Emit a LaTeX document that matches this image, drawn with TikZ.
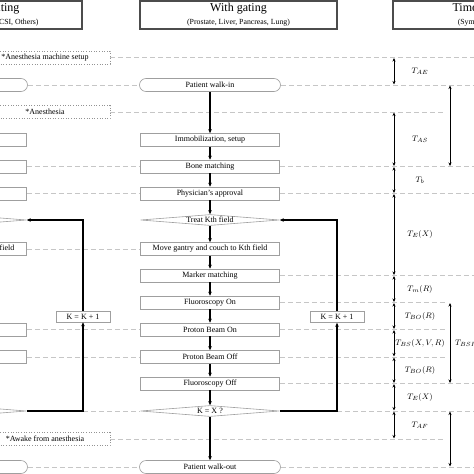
\documentclass[tikz,border=0pt]{standalone}
\usepackage{fontspec}
\setmainfont{Liberation Serif}
\usetikzlibrary{arrows.meta, positioning, shapes.geometric}

\begin{document}
\begin{tikzpicture}[
        x=1pt, y=-1pt,
        >=Stealth,
        box/.style={rectangle, draw=gray!75, line width=0.6pt, fill=white, minimum width=139pt, minimum height=13pt, inner sep=1pt, font=\fontsize{8}{9}\selectfont},
        term/.style={box, rounded corners=6.5pt, minimum width=141pt},
        dia/.style={diamond, draw=gray!75, line width=0.6pt, fill=white, aspect=13, inner sep=0pt, minimum width=139pt, minimum height=11pt, font=\fontsize{8}{9}\selectfont},
        opt/.style={box, dotted, draw=gray!85, minimum width=130pt},
        kbox/.style={box, minimum width=54pt, minimum height=11pt},
        head/.style={rectangle, draw=gray!60!black, line width=1.2pt, fill=white, minimum width=197pt, minimum height=28pt, align=center, inner sep=1pt},
        flow/.style={->, line width=1.1pt, -{Stealth[length=4pt, width=3.5pt]}},
        guide/.style={gray!45, line width=0.8pt, dash pattern=on 5pt off 3pt},
        span/.style={line width=1pt, {Stealth[length=3.5pt, width=3pt]}-{Stealth[length=3.5pt, width=3pt]}, shorten <=0.5pt, shorten >=0.5pt},
        lab/.style={font=\fontsize{8}{9}\selectfont, inner sep=0pt}
    ]
        \useasboundingbox (0,0) rectangle (474,474);
        \clip (0,0) rectangle (474,474);

        % headers
        \node[head] (hNo) at (-16.5,15) {{\fontsize{12}{13}\selectfont Without gating}\\[1pt]{\fontsize{7.8}{8}\selectfont (Brain, Head \& Neck, CSI, Others)}};
        \node[head] (hGate) at (238.5,15) {{\fontsize{12}{13}\selectfont With gating}\\[1pt]{\fontsize{7.8}{8}\selectfont (Prostate, Liver, Pancreas, Lung)}};
        \node[head, minimum width=162pt] (hTime) at (474,15) {{\fontsize{12}{13}\selectfont Timeline}\\[1pt]{\fontsize{7.8}{8}\selectfont (Symbols)}};

        % right ends of the guide lines
        \coordinate (rEnd) at (474,0);
        \coordinate (rCut) at (446,0);

        % without gating
        \node[opt]  (optSetup) at (45,57.5) {*Anesthesia machine setup};
        \node[term] (nIn)    at (-43,85)    {Patient walk-in};
        \node[opt]  (optAnes) at (45,112)   {*Anesthesia};
        \node[box]  (nImmo)  at (-43,140)   {Immobilization, setup};
        \node[box]  (nBone)  at (-43,166.5) {Bone matching};
        \node[box]  (nAppr)  at (-43,193.5) {Physician's approval};
        \node[dia]  (nTreat) at (-43,220)   {Treat Kth field};
        \node[box]  (nMove)  at (-43,249)   {Move gantry and couch to Kth field};
        \node[box]  (nBOn)   at (-43,329.5) {Proton Beam On};
        \node[box]  (nBOff)  at (-43,357)   {Proton Beam Off};
        \node[dia]  (nCheck) at (-43,411)   {K = X ?};
        \node[opt]  (optAwake) at (45,439)  {*Awake from anesthesia};
        \node[term] (nOut)   at (-43,467)   {Patient walk-out};
        \node[kbox] (nLoop)  at (83,316.5)  {K = K + 1};

        % with gating
        \node[term] (gIn)    at (210,85)    {Patient walk-in};
        \node[box]  (gImmo)  at (210,140)   {Immobilization, setup};
        \node[box]  (gBone)  at (210,166.5) {Bone matching};
        \node[box]  (gAppr)  at (210,193.5) {Physician's approval};
        \node[dia]  (gTreat) at (210,220)   {Treat Kth field};
        \node[box]  (gMove)  at (210,249)   {Move gantry and couch to Kth field};
        \node[box]  (gMark)  at (210,275.5) {Marker matching};
        \node[box]  (gFlOn)  at (210,302.5) {Fluoroscopy On};
        \node[box]  (gBOn)   at (210,329.5) {Proton Beam On};
        \node[box]  (gBOff)  at (210,357)   {Proton Beam Off};
        \node[box]  (gFlOff) at (210,383.5) {Fluoroscopy Off};
        \node[dia]  (gCheck) at (210,411)   {K = X ?};
        \node[term] (gOut)   at (210,467)   {Patient walk-out};
        \node[kbox] (gLoop)  at (337,317)   {K = K + 1};

        % guide lines
        \draw[guide] (optSetup.east) -- (optSetup.east -| rEnd);
        \draw[guide] (nIn.east) -- (gIn.west);
        \draw[guide] (gIn.east) -- (gIn.east -| rEnd);
        \draw[guide] (optAnes.east) -- (optAnes.east -| rCut);
        \draw[guide] (nBone.east) -- (gBone.west);
        \draw[guide] (gBone.east) -- (gBone.east -| rEnd);
        \draw[guide] (nAppr.east) -- (gAppr.west);
        \draw[guide] (gAppr.east) -- (gAppr.east -| rEnd);
        \draw[guide] (nMove.east) -- (gMove.west);
        \draw[guide] (gMark.east) -- (gMark.east -| rEnd);
        \draw[guide] (gFlOn.east) -- (gFlOn.east -| rCut);
        \draw[guide] (nBOn.east) -- (gBOn.west);
        \draw[guide] (gBOn.east) -- (gBOn.east -| rCut);
        \draw[guide] (nBOff.east) -- (gBOff.west);
        \draw[guide] (gBOff.east) -- (gBOff.east -| rCut);
        \draw[guide] (gFlOff.east) -- (gFlOff.east -| rEnd);
        \draw[guide] (nCheck.east -| nLoop) -- (gCheck.west);
        \draw[guide] (gCheck.east -| gLoop) -- (gCheck.east -| rEnd);
        \draw[guide] (optAwake.east) -- (optAwake.east -| rCut);
        \draw[guide] (nOut.east) -- (gOut.west);
        \draw[guide] (gOut.east) -- (gOut.east -| rEnd);

        % flow, without gating
        \draw[flow] (nIn) -- (nImmo);
        \draw[flow] (nImmo) -- (nBone);
        \draw[flow] (nBone) -- (nAppr);
        \draw[flow] (nAppr) -- (nTreat);
        \draw[flow] (nTreat) -- (nMove);
        \draw[flow] (nMove) -- (nBOn);
        \draw[flow] (nBOn) -- (nBOff);
        \draw[flow] (nBOff) -- (nCheck);
        \draw[flow] (nCheck) -- (nOut);
        \draw[flow] (nCheck.east) -| (nLoop);
        \draw[flow] (nLoop) |- (nTreat.east);

        % flow, with gating
        \draw[flow] (gIn) -- (gImmo);
        \draw[flow] (gImmo) -- (gBone);
        \draw[flow] (gBone) -- (gAppr);
        \draw[flow] (gAppr) -- (gTreat);
        \draw[flow] (gTreat) -- (gMove);
        \draw[flow] (gMove) -- (gMark);
        \draw[flow] (gMark) -- (gFlOn);
        \draw[flow] (gFlOn) -- (gBOn);
        \draw[flow] (gBOn) -- (gBOff);
        \draw[flow] (gBOff) -- (gFlOff);
        \draw[flow] (gFlOff) -- (gCheck);
        \draw[flow] (gCheck) -- (gOut);
        \draw[flow] (gCheck.east) -| (gLoop);
        \draw[flow] (gLoop) |- (gTreat.east);

        % time levels
        \coordinate (l1)  at (394,57.5);
        \coordinate (l2)  at (394,85);
        \coordinate (l3)  at (394,112);
        \coordinate (l4)  at (394,166.5);
        \coordinate (l5)  at (394,193.5);
        \coordinate (l6)  at (394,275.5);
        \coordinate (l7)  at (394,302.5);
        \coordinate (l8)  at (394,329.5);
        \coordinate (l9)  at (394,357);
        \coordinate (l10) at (394,383.5);
        \coordinate (l11) at (394,411);
        \coordinate (l12) at (394,439);
        \coordinate (l13) at (394,467);
        \coordinate (c2)  at (450,0);

        \draw[span] (l1) -- (l2);
        \draw[span] (l3) -- (l4);
        \draw[span] (l4) -- (l5);
        \draw[span] (l5) -- (l6);
        \draw[span] (l6) -- (l7);
        \draw[span] (l7) -- (l8);
        \draw[span] (l8) -- (l9);
        \draw[span] (l9) -- (l10);
        \draw[span] (l10) -- (l11);
        \draw[span] (l11) -- (l12);
        \draw[span] (l2 -| c2) -- (l4 -| c2);
        \draw[span] (l7 -| c2) -- (l10 -| c2);
        \draw[span] (l11 -| c2) -- (l13 -| c2);

        \node[lab] (tAE)  at (420,71)    {$T_{AE}$};
        \node[lab] (tAS)  at (420,139)   {$T_{AS}$};
        \node[lab] (tB)   at (420,180)   {$T_b$};
        \node[lab] (tE1)  at (420,234.5) {$T_E(X)$};
        \node[lab] (tM)   at (420,289)   {$T_m(R)$};
        \node[lab] (tBO1) at (420,316)   {$T_{BO}(R)$};
        \node[lab] (tBS)  at (420,343)   {$T_{BS}(X,V,R)$};
        \node[lab] (tBO2) at (420,370)   {$T_{BO}(R)$};
        \node[lab] (tE2)  at (420,397)   {$T_E(X)$};
        \node[lab] (tAF)  at (420,425)   {$T_{AF}$};
        \node[lab, anchor=west] (tBSR) at (455,343) {$T_{BSR}(X,V,R)$};
    \end{tikzpicture}
\end{document}
